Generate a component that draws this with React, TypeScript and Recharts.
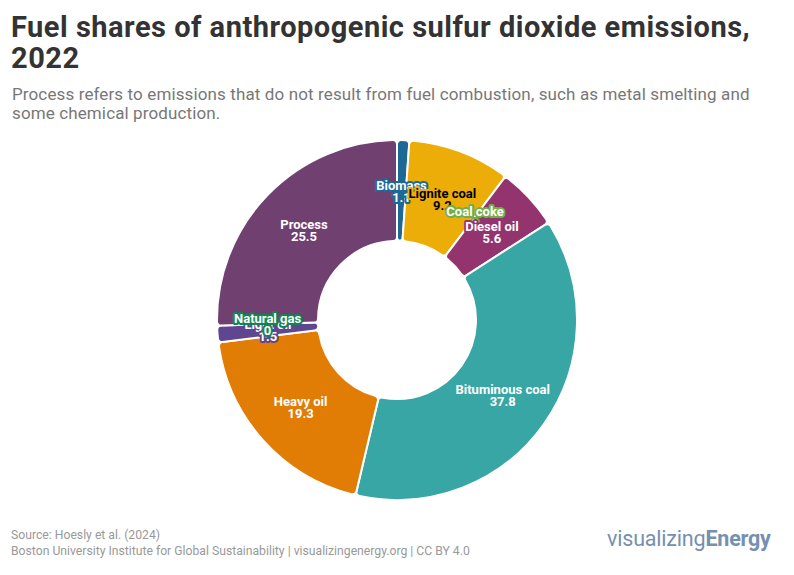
import React from "react";
import { PieChart, Pie, Cell } from "recharts";

const fuels = ["Biomass", "Lignite coal", "Coal coke", "Diesel oil", "Bituminous coal", "Heavy oil", "Light oil", "Natural gas", "Process"];
const shares = [1.1, 9.2, 0, 5.6, 37.8, 19.3, 1.5, 0, 25.5];
const colors = ["#1D6996", "#EDAD08", "#73AF48", "#94346E", "#38A6A5", "#E17C05", "#5F4690", "#0F8554", "#6F4070"];
const textColors = ["#fff", "#000", "#fff", "#fff", "#fff", "#fff", "#fff", "#fff", "#fff"];

const data = fuels.map((f, i) => ({ name: f, value: shares[i] }));

const RADIAN = Math.PI / 180;
const FONT = "'Source Sans Pro', Roboto, 'Noto Sans', sans-serif";

const renderLabel = (props: any) => {
  const { cx, cy, midAngle, innerRadius, outerRadius, index } = props;
  const r = innerRadius + (outerRadius - innerRadius) / 2;
  const x = cx + r * Math.cos(-midAngle * RADIAN);
  const y = cy + r * Math.sin(-midAngle * RADIAN);
  const common = {
    x,
    textAnchor: "middle" as const,
    fontFamily: FONT,
    fontWeight: 700,
    fontSize: 13,
    fill: textColors[index],
    stroke: colors[index],
    strokeWidth: 4,
    strokeLinejoin: "round" as const,
    paintOrder: "stroke",
  };
  return (
    <g key={`lbl-${index}`}>
      <text {...common} y={y - 1}>{fuels[index]}</text>
      <text {...common} y={y + 11}>{String(shares[index])}</text>
    </g>
  );
};

export default function App() {
  return (
    <div style={{ position: "absolute", left: 0, top: 0, width: 794, height: 575, background: "#fff", fontFamily: FONT, overflow: "hidden" }}>
      <div style={{ position: "absolute", left: 11, top: 12, width: 780, fontSize: 29, fontWeight: 700, lineHeight: "31px", color: "#333", letterSpacing: 0.5, whiteSpace: "nowrap" }}>
        Fuel shares of anthropogenic sulfur dioxide emissions,
        <br />
        2022
      </div>
      <div style={{ position: "absolute", left: 12, top: 85, width: 780, fontSize: 17, lineHeight: "19px", color: "#777", letterSpacing: 0.12, whiteSpace: "nowrap" }}>
        Process refers to emissions that do not result from fuel combustion, such as metal smelting and
        <br />
        some chemical production.
      </div>
      <div style={{ position: "absolute", left: 0, top: 0 }}>
        <PieChart width={794} height={575} margin={{ top: 0, right: 0, bottom: 0, left: 0 }}>
          <Pie
            data={data}
            dataKey="value"
            nameKey="name"
            cx={397}
            cy={320}
            innerRadius={79}
            outerRadius={180}
            startAngle={90}
            endAngle={-270}
            stroke="#fff"
            strokeWidth={2}
            cornerRadius={4}
            label={renderLabel}
            labelLine={false}
            isAnimationActive={false}
          >
            {data.map((d, i) => (
              <Cell key={d.name} fill={colors[i]} />
            ))}
          </Pie>
        </PieChart>
      </div>
      <div style={{ position: "absolute", left: 11, top: 527, fontSize: 12.2, lineHeight: "16px", color: "#999" }}>
        Source: Hoesly et al. (2024)
        <br />
        Boston University Institute for Global Sustainability | visualizingenergy.org | CC BY 4.0
      </div>
      <div style={{ position: "absolute", left: 607, top: 526, fontSize: 21.5, color: "#7590b0", letterSpacing: -0.2 }}>
        visualizing<span style={{ fontWeight: 700 }}>Energy</span>
      </div>
    </div>
  );
}
